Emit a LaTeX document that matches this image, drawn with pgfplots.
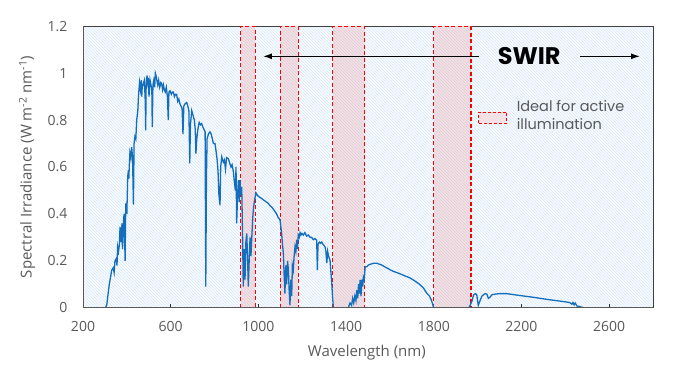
\documentclass[border=0pt]{standalone}
\usepackage{fontspec}
\setmainfont{Open Sans}
\newfontfamily\popp{Poppins}
\usepackage{pgfplots}
\pgfplotsset{compat=1.18}
\usetikzlibrary{patterns,arrows.meta}
\definecolor{txtgray}{RGB}{89,89,89}
\definecolor{specblue}{RGB}{20,110,190}
\definecolor{bandpink}{RGB}{242,226,231}
\definecolor{bgblue}{RGB}{249,252,255}
\definecolor{hatchblue}{RGB}{214,231,249}
\definecolor{hatchpink}{RGB}{226,202,211}
\begin{document}
\begin{tikzpicture}
\path[use as bounding box] (0,0) rectangle (684pt,368pt);
\begin{axis}[
  at={(83pt,60.3pt)}, anchor=south west,
  scale only axis, width=570pt, height=281.4pt,
  xmin=200, xmax=2800, ymin=0, ymax=1.2,
  xtick={200,600,1000,1400,1800,2200,2600},
  ytick={0,0.2,0.4,0.6,0.8,1,1.2},
  xtick pos=bottom, ytick pos=left,
  tick align=inside,
  x tick style={black!80, line width=1pt},
  major tick length=4pt,
  y tick style={draw=none},
  /pgf/number format/1000 sep={},
  /pgf/number format/assume math mode=true,
  tick label style={font=\fontsize{14}{16}\selectfont, text=txtgray},
  xticklabel style={yshift=-10pt},
  yticklabel style={xshift=-12pt},
  axis line style={draw=black!75, line width=0.7pt},
  axis background/.style={preaction={fill=bgblue}, pattern=north west lines, pattern color=hatchblue},
  xlabel={Wavelength (nm)},
  ylabel={Spectral Irradiance (W m\textsuperscript{-2} nm\textsuperscript{-1})},
  label style={font=\fontsize{15}{17}\selectfont, text=txtgray},
  xlabel style={at={(axis description cs:0.498,-0.161)}, anchor=center},
  ylabel style={at={(axis description cs:-0.098,0.5)}, anchor=center, rotate=0},
  legend style={draw=none, fill=none, at={(axis description cs:0.688,0.75)}, anchor=north west,
    font=\popp\fontsize{14.5}{18}\selectfont, text=txtgray, cells={align=left}},
  legend cell align=left,
  clip=true,
]
\addlegendimage{legend image code/.code={\draw[draw=red,line width=1pt,dash pattern=on 3pt off 2pt,fill=bandpink] (0pt,-7pt) rectangle (28pt,4pt); \path[draw=none,fill=none] (28pt,0pt) rectangle (36pt,0.1pt);}}
\addlegendentry{Ideal for active\\illumination}

\foreach \a/\b in {920/985, 1100/1182, 1340/1485, 1800/1970}{
  \edef\tmp{\noexpand\draw[draw=red, line width=1.1pt, dash pattern=on 4pt off 2.5pt, preaction={fill=bandpink}, pattern=north west lines, pattern color=hatchpink] (axis cs:\a,0) rectangle (axis cs:\b,1.2);}
  \tmp
}

\addplot[specblue, line width=1.3pt, forget plot] table {
x y
280 0
302 0
308 0.01
320 0.10
331 0.16
338 0.17
342 0.15
346 0.20
352 0.21
355 0.18
358 0.26
362 0.24
366 0.27
369 0.345
372 0.28
374 0.30
378 0.36
380 0.25
382 0.28
385 0.38
388 0.40
390 0.30
392 0.20
395 0.445
400 0.40
404 0.56
407 0.585
409 0.55
411 0.60
414 0.66
418 0.64
422 0.685
426 0.64
430 0.44
433 0.70
437 0.73
441 0.72
445 0.80
450 0.84
453 0.90
455 0.925
458 0.96
462 0.93
466 0.97
468 0.90
470 0.94
475 0.955
480 0.97
484 0.88
486 0.756
488 0.95
492 0.99
495 0.96
498 0.98
501 0.90
503 0.93
506 0.97
510 0.95
514 0.93
516 0.77
519 0.95
523 0.97
527 0.94
530 1.00
533 0.99
537 0.97
541 0.95
545 0.97
550 0.94
555 0.96
559 0.955
563 0.93
567 0.95
571 0.93
575 0.92
580 0.94
585 0.90
589 0.80
592 0.92
597 0.925
603 0.91
608 0.92
612 0.92
617 0.90
622 0.91
627 0.91
632 0.88
637 0.89
642 0.87
647 0.86
652 0.85
656 0.74
660 0.86
666 0.87
673 0.875
678 0.86
683 0.84
687 0.615
690 0.78
696 0.84
702 0.82
708 0.80
712 0.76
715 0.657
719 0.72
724 0.76
730 0.79
736 0.78
741 0.785
747 0.77
752 0.76
757 0.75
760 0.09
763 0.55
766 0.72
772 0.74
779 0.75
785 0.74
790 0.72
795 0.70
802 0.70
808 0.66
812 0.63
816 0.58
820 0.48
825 0.437
828 0.60
833 0.643
840 0.62
845 0.63
850 0.59
855 0.64
863 0.636
868 0.62
875 0.60
880 0.61
886 0.58
890 0.54
895 0.50
898 0.60
901 0.36
905 0.48
909 0.544
913 0.45
916 0.544
920 0.48
924 0.515
928 0.30
931 0.09
935 0.25
939 0.12
943 0.28
947 0.317
951 0.20
954 0.09
958 0.20
962 0.30
966 0.22
970 0.30
974 0.38
977 0.416
981 0.45
985 0.47
989 0.49
995 0.48
1000 0.475
1008 0.47
1015 0.466
1023 0.46
1030 0.455
1038 0.45
1045 0.445
1053 0.435
1060 0.43
1068 0.42
1076 0.41
1083 0.40
1090 0.385
1095 0.38
1099 0.373
1103 0.34
1106 0.317
1110 0.27
1114 0.23
1117 0.15
1121 0.06
1125 0.18
1129 0.10
1133 0.20
1137 0.16
1140 0.08
1144 0.01
1148 0.12
1152 0.05
1155 0.18
1159 0.16
1163 0.22
1167 0.26
1171 0.24
1175 0.29
1178 0.25
1182 0.31
1186 0.30
1190 0.32
1194 0.31
1198 0.317
1205 0.31
1212 0.32
1220 0.305
1228 0.31
1236 0.30
1243 0.30
1250 0.29
1258 0.295
1263 0.29
1266 0.288
1269 0.16
1272 0.27
1278 0.28
1284 0.275
1289 0.28
1295 0.27
1300 0.265
1304 0.26
1308 0.24
1312 0.19
1316 0.24
1320 0.22
1324 0.21
1327 0.20
1331 0.15
1335 0.10
1338 0.05
1342 0
1410 0
1418 0.02
1425 0.01
1430 0.04
1435 0.02
1440 0.05
1445 0.03
1449 0.075
1453 0.04
1457 0.10
1460 0.06
1464 0.118
1468 0.05
1472 0.12
1476 0.09
1479 0.13
1483 0.12
1487 0.175
1495 0.175
1502 0.182
1510 0.185
1520 0.188
1530 0.19
1540 0.19
1550 0.186
1560 0.183
1570 0.178
1580 0.172
1590 0.168
1600 0.162
1616 0.155
1631 0.150
1650 0.143
1670 0.135
1692 0.127
1707 0.118
1720 0.11
1735 0.10
1752 0.085
1768 0.062
1780 0.05
1790 0.03
1798 0.005
1802 0
1960 0
1966 0.01
1975 0.03
1981 0.054
1990 0.06
1996 0.055
2003 0.01
2011 0.03
2020 0.05
2034 0.06
2042 0.058
2049 0.04
2057 0.045
2065 0.055
2080 0.058
2100 0.06
2133 0.06
2170 0.055
2209 0.05
2250 0.045
2285 0.04
2320 0.035
2361 0.03
2400 0.025
2420 0.022
2430 0.015
2435 0.022
2440 0.012
2445 0.02
2453 0.007
2465 0.005
2483 0
2800 0
};

\draw[black, line width=1.3pt, -{Latex[length=9pt,width=6pt]}] (axis cs:2006,1.072) -- (axis cs:1021,1.072);
\draw[black, line width=1.3pt, -{Latex[length=9pt,width=6pt]}] (axis cs:2467,1.072) -- (axis cs:2741,1.072);
\node[font=\popp\bfseries\fontsize{24}{28}\selectfont, text=black] at (axis cs:2235,1.072) {SWIR};

\draw[txtgray, line width=1.6pt] (rel axis cs:0,1) -- (rel axis cs:0,0) -- (rel axis cs:1,0);
\end{axis}
\end{tikzpicture}
\end{document}
